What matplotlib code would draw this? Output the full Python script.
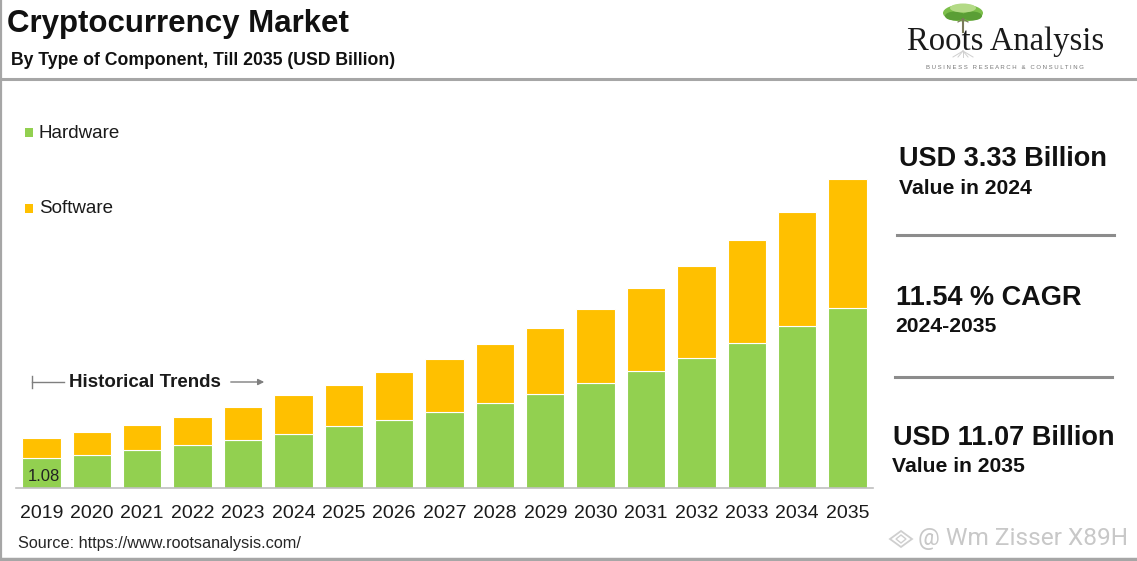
import matplotlib
matplotlib.use("Agg")
import matplotlib.pyplot as plt
from matplotlib.patches import Ellipse, Rectangle, Polygon
import numpy as np

plt.rcParams['font.family'] = ['Liberation Sans', 'DejaVu Sans']

years = ["2019", "2020", "2021", "2022", "2023", "2024", "2025", "2026", "2027",
         "2028", "2029", "2030", "2031", "2032", "2033", "2034", "2035"]
hardware = [1.08, 1.20, 1.35, 1.53, 1.72, 1.95, 2.21, 2.45, 2.73,
            3.04, 3.37, 3.77, 4.20, 4.66, 5.21, 5.81, 6.46]
total = [1.78, 2.02, 2.27, 2.56, 2.89, 3.33, 3.70, 4.14, 4.61,
         5.16, 5.75, 6.42, 7.16, 7.96, 8.89, 9.90, 11.07]
software = [round(t - h, 2) for t, h in zip(total, hardware)]

series_names = ["Hardware", "Software"]
colors = {"Hardware": "#92D050", "Software": "#FFC000"}

W, H = 1137, 561
fig = plt.figure(figsize=(W / 100, H / 100), dpi=100)
fig.patch.set_facecolor("white")

# main bar axes in pixel placement
ax_left, ax_right = 16.3, 872.7
ax_base = 488.0
px_per_unit = 27.9
ymax = 12.0
ax_top = ax_base - ymax * px_per_unit
ax = fig.add_axes([ax_left / W, (H - ax_base) / H, (ax_right - ax_left) / W,
                   (ax_base - ax_top) / H])
x = np.arange(len(years))
ax.bar(x, hardware, width=0.76, color=colors["Hardware"], edgecolor="white", linewidth=0.8)
ax.bar(x, software, bottom=hardware, width=0.76, color=colors["Software"],
       edgecolor="white", linewidth=0.8)
ax.set_xlim(-0.5, 16.5)
ax.set_ylim(0, ymax)
for s in ["top", "right", "left"]:
    ax.spines[s].set_visible(False)
ax.spines["bottom"].set_color("#bfbfbf")
ax.spines["bottom"].set_linewidth(1.2)
ax.set_yticks([])
ax.set_xticks(x)
ax.set_xticklabels(years, fontsize=14, color="#1a1a1a")
ax.tick_params(axis="x", length=0, pad=12)
ax.text(0.05, 0.25, f"{hardware[0]:.2f}", ha="center", va="baseline", fontsize=12, color="#222222")

# overlay in pixel coordinates
ov = fig.add_axes([0, 0, 1, 1])
ov.set_xlim(0, W)
ov.set_ylim(H, 0)
ov.axis("off")

# frame lines
ov.plot([0, W], [79, 79], color="#a6a6a6", lw=2.2)
ov.plot([0, W], [558.5, 558.5], color="#a6a6a6", lw=2.5)
ov.plot([1.2, 1.2], [0, 560], color="#a6a6a6", lw=1.6)

# titles
ov.text(7, 32, "Cryptocurrency Market", fontsize=22.5, fontweight="bold", color="#111111", va="baseline")
ov.text(11, 65, "By Type of Component, Till 2035 (USD Billion)", fontsize=12.7, fontweight="bold",
        color="#111111", va="baseline")

# logo
ov.add_patch(Ellipse((963, 13), 40, 17, color="#7cbf4a", lw=0))
ov.add_patch(Ellipse((955, 16), 20, 9, color="#5a9e35", lw=0))
ov.add_patch(Ellipse((972, 16), 20, 9, color="#5a9e35", lw=0))
ov.add_patch(Ellipse((963, 8), 26, 9, color="#b3da86", lw=0))
ov.plot([963, 963], [19, 32], color="#7a7a5a", lw=1.5)
ov.plot([958, 963, 968], [22, 19, 22], color="#7a7a5a", lw=0.8)
for dx in [-10, -5, 0, 5, 10]:
    ov.plot([963, 963 + dx], [51, 57], color="#cfcfcf", lw=0.7)
ov.text(1006, 50, "Roots Analysis", fontsize=23.5, family=["Liberation Serif", "DejaVu Serif"],
        color="#1a1a1a", ha="center", va="baseline")
ov.text(1005, 68.5, "B U S I N E S S   R E S E A R C H   &   C O N S U L T I N G",
        fontsize=4.3, color="#777777", ha="center", va="baseline")

# legend
ov.add_patch(Rectangle((25, 128), 8, 9, color=colors["Hardware"], lw=0))
ov.text(39, 138, series_names[0], fontsize=13.5, color="#1a1a1a", va="baseline")
ov.add_patch(Rectangle((25, 204), 8, 9, color=colors["Software"], lw=0))
ov.text(39, 213, series_names[1], fontsize=13.5, color="#1a1a1a", va="baseline")

# historical trends
ov.plot([32, 32], [376, 388], color="#7f7f7f", lw=1)
ov.plot([32, 64], [382, 382], color="#7f7f7f", lw=1)
ov.text(69, 387, "Historical Trends", fontsize=13.5, fontweight="bold", color="#1a1a1a", va="baseline")
ov.annotate("", xy=(267, 382), xytext=(228, 382),
            arrowprops=dict(arrowstyle="-|>", color="#7f7f7f", lw=1, mutation_scale=9))

# right panel
ov.text(899, 165.7, "USD 3.33 Billion", fontsize=19.5, fontweight="bold", color="#111111", va="baseline")
ov.text(899, 194, "Value in 2024", fontsize=15.2, fontweight="bold", color="#111111", va="baseline")
ov.plot([897, 1114], [235, 235], color="#8c8c8c", lw=2.2)
ov.text(896, 305, "11.54 % CAGR", fontsize=19.5, fontweight="bold", color="#111111", va="baseline")
ov.text(895, 332, "2024-2035", fontsize=15.2, fontweight="bold", color="#111111", va="baseline")
ov.plot([895, 1112], [377, 377], color="#8c8c8c", lw=2.2)
ov.text(893, 445, "USD 11.07 Billion", fontsize=19.5, fontweight="bold", color="#111111", va="baseline")
ov.text(892, 471.7, "Value in 2035", fontsize=15.2, fontweight="bold", color="#111111", va="baseline")

# source
ov.text(18, 548, "Source: https://www.rootsanalysis.com/", fontsize=11.7, color="#262626", va="baseline")

# watermark
ov.add_patch(Polygon([[901, 531], [912, 539], [901, 547], [890, 539]], closed=True,
                     fill=False, edgecolor="#cfcfcf", lw=1.3))
ov.add_patch(Polygon([[901, 535], [906, 539], [901, 543], [896, 539]], closed=True,
                     fill=False, edgecolor="#cfcfcf", lw=1.0))
ov.text(918, 545, "@ Wm Zisser X89H", fontsize=17.6, family=["Roboto", "DejaVu Sans"],
        color="#c8c8c8", va="baseline")

fig.savefig("out.png", dpi=100, facecolor="white")
